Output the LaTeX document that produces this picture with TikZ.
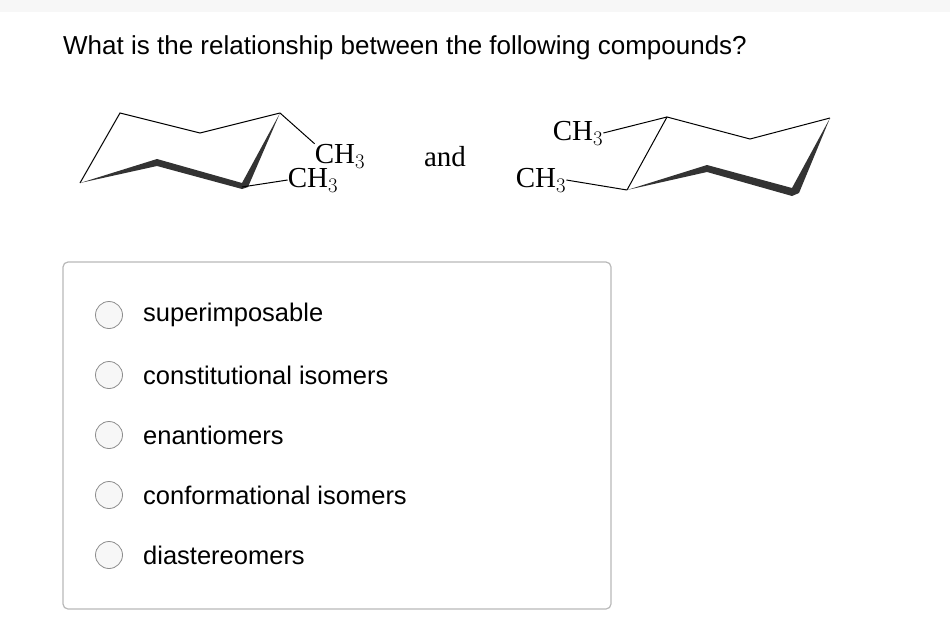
\documentclass[tikz,border=0pt]{standalone}
\usepackage{fontspec}
\setmainfont{Liberation Sans}
\newfontfamily\chemfont{Liberation Serif}
\usetikzlibrary{positioning}
\definecolor{boxGray}{HTML}{B8B8B8}
\definecolor{stripGray}{HTML}{F7F7F7}
\tikzset{
    bond/.style={line width=1pt},
    chem/.style={font=\chemfont\fontsize{29}{29}\selectfont, inner sep=0pt},
    radio/.style={circle, draw=black!45, fill=black!3, line width=0.8pt, minimum size=27pt, inner sep=0pt},
    answer/.style={font=\fontsize{25.5}{28}\selectfont, anchor=west, inner sep=0pt}
}
\begin{document}
\begin{tikzpicture}[x=1pt, y=-1pt]
    \useasboundingbox (0,0) rectangle (950,626);
    \fill[stripGray] (0,0) rectangle (950,12);

    % --- question ---
    \node[anchor=west, inner sep=0pt, font=\fontsize{26}{28}\selectfont] (question) at (63,48)
        {What is the relationship between the following compounds?};

    % --- left chair ---
    \coordinate (la) at (120,113); \coordinate (lb) at (200,133);
    \coordinate (lc) at (280,113); \coordinate (ld) at (242,187);
    \coordinate (lf) at (80,183);
    \draw[bond] (lf) -- (la) -- (lb) -- (lc);
    \fill[black!80] (lf) -- (157,159) -- (242,183) -- (lc) -- (248,187) -- (242,189) -- (157,166) -- cycle;
    \node[chem] (lup) at (340,156) {CH$_3$};
    \node[chem] (ldown) at (313,180) {CH$_3$};
    \draw[bond] (lc) -- (lup.north west);
    \draw[bond] (ld) -- (ldown.west);

    \node[chem] (andtxt) at (445,157) {and};

    % --- right chair ---
    \coordinate (ra) at (667,117); \coordinate (rb) at (750,139);
    \coordinate (rc) at (830,118); \coordinate (rd) at (792,193);
    \coordinate (rf) at (627,190);
    \draw[bond] (rf) -- (ra) -- (rb) -- (rc);
    \fill[black!80] (rf) -- (707,165) -- (792,188) -- (rc) -- (799,193) -- (792,196) -- (707,172) -- cycle;
    \node[chem] (rup) at (578,133) {CH$_3$};
    \node[chem] (rdown) at (541,180) {CH$_3$};
    \draw[bond] (ra) -- (rup.east);
    \draw[bond] (rf) -- (rdown.east);

    % --- answer box ---
    \draw[boxGray, line width=1.2pt, rounded corners=5pt] (63,262) rectangle (611,609);
    \foreach \n/\txt [count=\i from 0] in {sup/superimposable, con/constitutional isomers,
        ena/enantiomers, conf/conformational isomers, dia/diastereomers} {
        \node[radio] (r\n) at (109,315+60*\i) {};
        \node[answer] (a\n) at (143,315+60*\i) {\txt};
    }
\end{tikzpicture}
\end{document}
